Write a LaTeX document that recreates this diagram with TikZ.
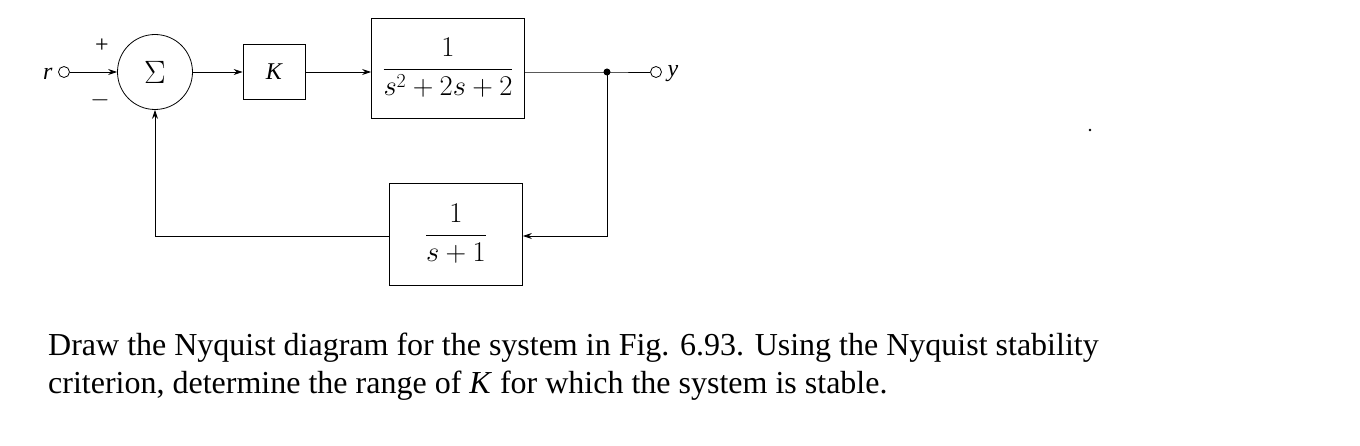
\documentclass[tikz,border=0pt]{standalone}
\usepackage{fontspec}
\usepackage{graphicx}
\setmainfont{Liberation Serif}
\usetikzlibrary{arrows.meta}
\begin{document}
\begin{tikzpicture}[x=1pt,y=-1pt,
  blk/.style={draw,line width=0.8pt,minimum width=#1,inner sep=0pt},
  arr/.style={-{Stealth[length=9pt,width=6pt]},line width=0.8pt},
  ln/.style={line width=0.8pt},
  oc/.style={circle,draw,line width=0.8pt,minimum size=11pt,inner sep=0pt,fill=white},
  lab/.style={font=\fontsize{24}{28}\selectfont}]
\useasboundingbox (0,0) rectangle (1360,446);
\node[oc] (r) at (64,72) {};
\node[lab,anchor=east] (rl) at (56,74) {\itshape r};
\node[circle,draw,line width=0.8pt,minimum size=75pt,inner sep=0pt] (sum) at (155,72) {\scalebox{1.3}{\fontsize{24}{28}\selectfont$\Sigma$}};
\node[lab] (plus) at (102,46) {+};
\node[lab] (minus) at (100,100) {$-$};
\node[blk=62pt,minimum height=55pt,lab] (K) at (274,72) {\itshape K};
\node[blk=153pt,minimum height=100pt] (G) at (448,68) {\scalebox{1.15}{\fontsize{24}{28}\selectfont$\displaystyle\frac{1}{s^2+2s+2}$}};
\node[blk=133pt,minimum height=102pt] (H) at (456,234) {\scalebox{1.15}{\fontsize{24}{28}\selectfont$\displaystyle\frac{1}{s+1}$}};
\coordinate (d) at (607,72);
\fill (d) circle (3.5pt);
\node[oc] (y) at (656,72) {};
\node[lab,anchor=west] (yl) at (664,74) {\itshape y};
\coordinate (dr) at (607,236);
\coordinate (bl) at (155,236);
\draw[arr] (r) -- (sum);
\draw[arr] (sum) -- (K);
\draw[arr] (K) -- (G.west|-K);
\draw[ln] (G.east|-d) -- (d) -- (y);
\draw[arr] (d) -- (dr) -- (H.east|-dr);
\draw[arr] (H.west|-bl) -- (bl) -- (sum.south);
\fill (1090,130) circle (1.3pt);
\node[anchor=north west,inner sep=0pt,font=\fontsize{32}{38}\selectfont,align=left] (t) at (48,333) {Draw the Nyquist diagram for the system in Fig. 6.93. Using the Nyquist stability\\criterion, determine the range of \textit{K} for which the system is stable.};
\end{tikzpicture}
\end{document}
